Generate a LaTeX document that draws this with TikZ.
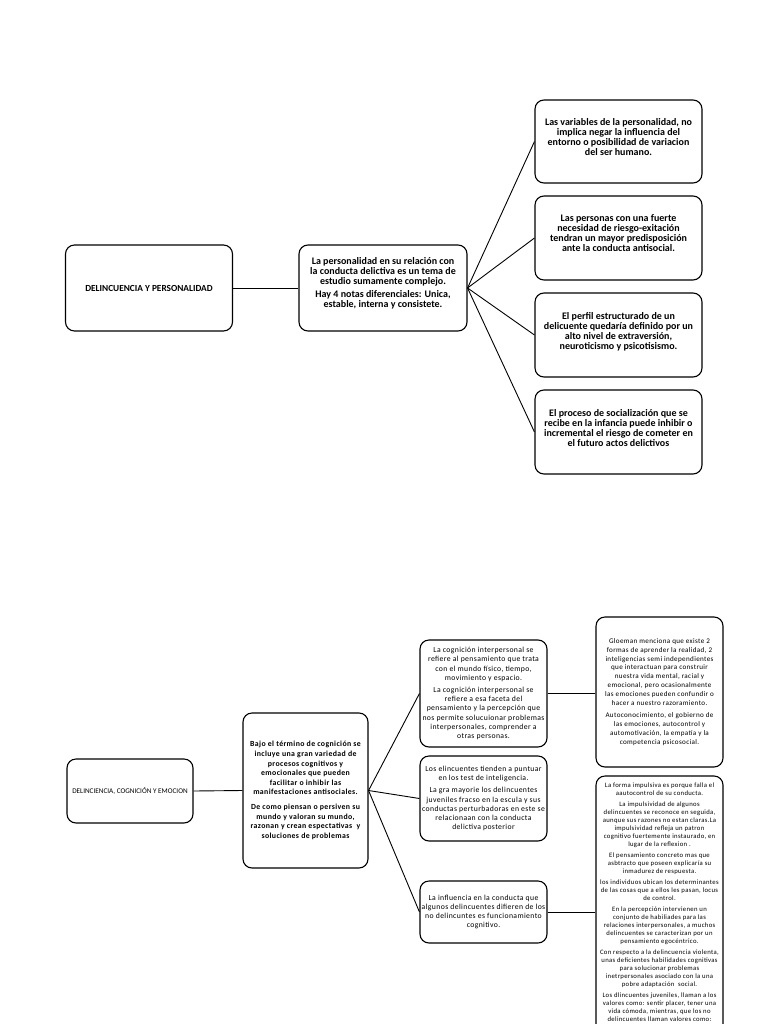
\documentclass[tikz,border=0pt]{standalone}
\usepackage{fontspec}
\setmainfont{Carlito}
\newfontfamily\spacedfont[LetterSpace=5]{Carlito}
\begin{document}
\begin{tikzpicture}[x=1pt,y=-1pt,
  box/.style={draw=black, line width=1.1pt, rounded corners=9pt, align=center, inner sep=0pt},
  conn/.style={draw=black, line width=0.9pt},
  toptitle/.style={font=\fontsize{9.3}{10}\selectfont\bfseries},
  toptext/.style={font=\fontsize{10}{10}\selectfont\bfseries, text depth=9pt},
  dtext/.style={font=\spacedfont\fontsize{7.8}{9.6}\selectfont\bfseries},
  etext/.style={font=\spacedfont\fontsize{7.7}{9.2}\selectfont},
  ftext/.style={font=\spacedfont\fontsize{7.1}{8.8}\selectfont},
  gtext/.style={font=\spacedfont\fontsize{6.7}{7.9}\selectfont},
  ctitle/.style={font=\fontsize{7.2}{8}\selectfont}
]
\useasboundingbox (0,0) rectangle (768,1024);
\clip (0,0) rectangle (768,1024);

% ---------- top diagram ----------
\node[box, toptitle, minimum width=167pt, minimum height=86pt] (a) at (149,288) {DELINCUENCIA Y PERSONALIDAD};
\node[box, toptext, text depth=12pt, minimum width=168pt, minimum height=86pt] (b) at (383,288) {La personalidad en su relación con\\la conducta delictiva es un tema de\\estudio sumamente complejo.\\[3pt]Hay 4 notas diferenciales: Unica,\\estable, interna y consistete.};
\node[box, toptext, minimum width=167pt, minimum height=83pt] (r1) at (618.5,141.5) {Las variables de la personalidad, no\\implica negar la influencia del\\entorno o posibilidad de variacion\\del ser humano.};
\node[box, toptext, minimum width=167pt, minimum height=84pt] (r2) at (618.5,238) {Las personas con una fuerte\\necesidad de riesgo-exitación\\tendran un mayor predisposición\\ante la conducta antisocial.};
\node[box, toptext, minimum width=167pt, minimum height=84pt] (r3) at (618.5,335) {El perfil estructurado de un\\delicuente quedaría definido por un\\alto nivel de extraversión,\\neuroticismo y psicotisismo.};
\node[box, toptext, minimum width=167pt, minimum height=84pt] (r4) at (618.5,432) {El proceso de socialización que se\\recibe en la infancia puede inhibir o\\incremental el riesgo de cometer en\\el futuro actos delictivos};

\draw[conn] (a.east) -- (b.west);
\foreach \r in {r1,r2,r3,r4} \draw[conn] (b.east) -- (\r.west);

% ---------- bottom diagram ----------
\node[box, ctitle, minimum width=126pt, minimum height=64pt] (c) at (130,791) {DELINCIENCIA, COGNICIÓN Y EMOCION};
\node[box, dtext, minimum width=125pt, minimum height=155pt] (d) at (305.5,790.5) {Bajo el término de cognición se\\incluye una gran variedad de\\procesos cognitivos y\\emocionales que pueden\\facilitar o inhibir las\\manifestaciones antisociales.\\[5pt]De como piensan o persiven su\\mundo y valoran su mundo,\\razonan y crean espectativas~ y\\soluciones de problemas};
\node[box, etext, minimum width=127pt, minimum height=107pt] (e1) at (483.5,693.5) {La cognición interpersonal se\\refiere al pensamiento que trata\\con el mundo físico, tiempo,\\movimiento y espacio.\\[3pt]La cognición interpersonal se\\refiere a esa faceta del\\pensamiento y la percepción que\\nos permite solucuionar problemas\\interpersonales, comprender a\\otras personas.};
\node[box, etext, minimum width=127pt, minimum height=85pt] (e2) at (483.5,798.5) {Los elincuentes tienden a puntuar\\en los test de inteligencia.\\[3pt]La gra mayorie los delincuentes\\juveniles fracso en la escula y sus\\conductas perturbadoras en este se\\relacionaan con la conducta\\delictiva posterior};
\node[box, etext, minimum width=127pt, minimum height=62pt] (e3) at (483.5,912) {La influencia en la conducta que\\algunos delincuentes difieren de los\\no delincuntes es funcionamiento\\cognitivo.};
\node[box, ftext, minimum width=127pt, minimum height=150pt] (f1) at (659.5,692) {Gloeman menciona que existe 2\\formas de aprender la realidad, 2\\inteligencias semi independientes\\que interactuan para construir\\nuestra vida mental, racial y\\emocional, pero ocasionalmente\\las emociones pueden confundir o\\hacer a nuestro razoramiento.\\[4pt]Autoconocimiento, el gobierno de\\las emociones, autocontrol y\\automotivación, la empatía y la\\competencia psicosocial.};
\node[box, minimum width=127pt, minimum height=270pt] (f2) at (659.5,911) {};
\node[gtext, align=center, inner sep=0pt, anchor=north] (f2t) at ([yshift=-7pt]f2.north) {La forma impulsiva es porque falla el\\aautocontrol de su conducta.\\[3.5pt]La impulsividad de algunos\\delincuentes se reconoce en seguida,\\aunque sus razones no estan claras.La\\impulsividad refleja un patron\\cognitivo fuertemente instaurado, en\\lugar de la reflexion .\\[3.5pt]El pensamiento concreto mas que\\asbtracto que poseen explicaría su\\inmadurez de respuesta.\\[3.5pt]los individuos ubican los determinantes\\de las cosas que a ellos les pasan, locus\\de control.\\[3.5pt]En la percepción intervienen un\\conjunto de habiliades para las\\relaciones interpersonales, a muchos\\delincuentes se caracterizan por un\\pensamiento egocéntrico.\\[3.5pt]Con respecto a la delincuencia violenta,\\unas deficientes habilidades cognitivas\\para solucionar problemas\\inetrpersonales asociado con la una\\pobre adaptación~ social.\\[3.5pt]Los dlincuentes juveniles, llaman a los\\valores como: sentir placer, tener una\\vida cómoda, mientras, que los no\\delincuentes llaman valores como:};

\draw[conn] (c.east) -- (d.west);
\foreach \e in {e1,e2,e3} \draw[conn] (d.east) -- (\e.west);
\draw[conn] (e1.east) -- (e1.east -| f1.west);
\draw[conn] (e3.east) -- (e3.east -| f2.west);
\end{tikzpicture}
\end{document}
